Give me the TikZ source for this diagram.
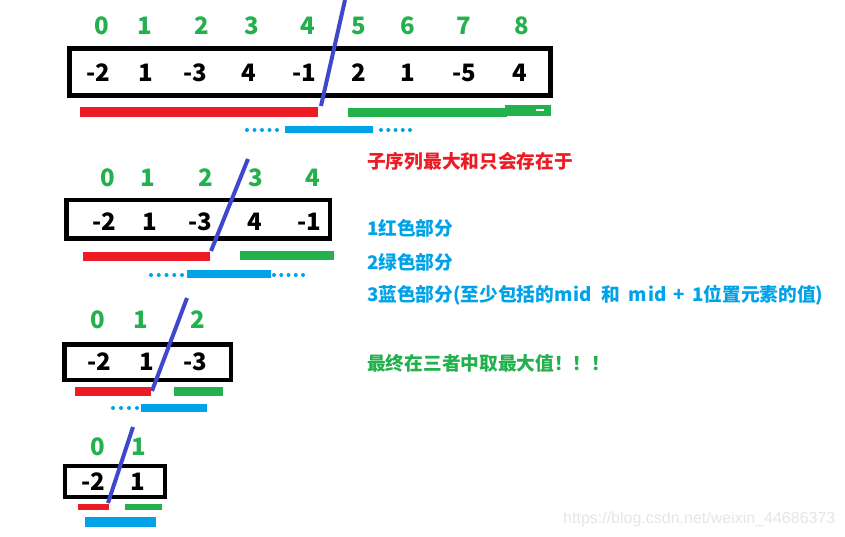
\documentclass[tikz,border=0pt]{standalone}
\usepackage{fontspec}
\setmainfont{Noto Sans CJK SC}
\newfontfamily\wmfont{Liberation Sans}
\definecolor{cred}{HTML}{ED1C24}
\definecolor{cgreen}{HTML}{22B14C}
\definecolor{ctext}{HTML}{00A2E8}
\definecolor{cslash}{HTML}{3F48CC}
\definecolor{cwm}{HTML}{E6E6E6}
\tikzset{
  idx/.style={text=cgreen, font=\bfseries\fontsize{24}{28}\selectfont, inner sep=0pt},
  val/.style={text=black, font=\bfseries\fontsize{24}{28}\selectfont, inner sep=0pt},
  arrbox/.style={draw=black, line width=5pt, fill=none},
  slash/.style={draw=cslash, line width=4pt},
  note/.style={font=\bfseries\fontsize{18.7}{22}\selectfont, anchor=west, inner sep=0pt},
  redbar/.style={fill=cred},
  greenbar/.style={fill=cgreen},
  bluebar/.style={fill=ctext},
}
\begin{document}
\begin{tikzpicture}[x=1pt,y=-1pt]
\useasboundingbox (0,0) rectangle (845,537);
\fill[white] (0,0) rectangle (845,537);
% ---------- array 1 ----------
\draw[arrbox] (69.5,48.5) rectangle (550.5,95.5);
\foreach \n/\x in {0/102,1/145,2/202,3/252,4/308,5/359,6/408,7/464,8/522}
  \node[idx] (a1i\n) at (\x,26) {\n};
\foreach \v/\x [count=\k from 0] in {-2/98,1/146,-3/195,4/249,-1/304,2/359,1/408,-5/464,4/520}
  \node[val] (a1v\k) at (\x,73) {\v};
\fill[redbar] (80,107) rectangle (318,117);
\fill[greenbar] (348,108) rectangle (507,117);
\fill[greenbar] (505,105) rectangle (551,116);
\draw[white, line width=1.2pt] (536,110) -- (544,110);
\foreach \x in {247,254.5,262,269.5,277} \fill[ctext] (\x,130) circle (2);
\fill[bluebar] (285,126) rectangle (373,133);
\foreach \x in {381,388.25,395.5,402.75,410} \fill[ctext] (\x,130) circle (2);
\coordinate (s1a) at (345,0);
\coordinate (s1b) at (321,106);
\draw[slash] (s1a) -- (s1b);
% ---------- array 2 ----------
\draw[arrbox, line width=4.5pt] (66.25,200.25) rectangle (329.75,238.75);
\foreach \n/\x in {0/108,1/148,2/206,3/256,4/313}
  \node[idx] (a2i\n) at (\x,178) {\n};
\foreach \v/\x [count=\k from 0] in {-2/104,1/150,-3/200,4/255,-1/309}
  \node[val] (a2v\k) at (\x,222) {\v};
\fill[redbar] (83,252) rectangle (210,261);
\fill[greenbar] (240,251) rectangle (334,260);
\foreach \x in {151,158.75,166.5,174.25,182} \fill[ctext] (\x,275) circle (2);
\fill[bluebar] (187,270) rectangle (271,278);
\foreach \x in {274,281.25,288.5,295.75,303} \fill[ctext] (\x,275) circle (2);
\coordinate (s2a) at (248,159);
\coordinate (s2b) at (211,251);
\draw[slash] (s2a) -- (s2b);
% ---------- array 3 ----------
\draw[arrbox, line width=4.5pt] (64.25,344.25) rectangle (230.75,379.75);
\foreach \n/\x in {0/98,1/141,2/198}
  \node[idx] (a3i\n) at (\x,320) {\n};
\foreach \v/\x [count=\k from 0] in {-2/99,1/147,-3/195}
  \node[val] (a3v\k) at (\x,362) {\v};
\fill[redbar] (75,387) rectangle (151,396);
\fill[greenbar] (174,387) rectangle (223,396);
\foreach \x in {113,121,129,137} \fill[ctext] (\x,408) circle (2);
\fill[bluebar] (141,404) rectangle (207,412);
\coordinate (s3a) at (187,298);
\coordinate (s3b) at (152,391);
\draw[slash] (s3a) -- (s3b);
% ---------- array 4 ----------
\draw[arrbox, line width=4pt] (65,466) rectangle (165,497);
\foreach \n/\x in {0/98,1/139}
  \node[idx] (a4i\n) at (\x,447) {\n};
\foreach \v/\x [count=\k from 0] in {-2/93,1/138}
  \node[val] (a4v\k) at (\x,482) {\v};
\fill[redbar] (78,504) rectangle (109,510);
\fill[greenbar] (125,504) rectangle (162,510);
\fill[bluebar] (85,517) rectangle (156,527);
\coordinate (s4a) at (133,427);
\coordinate (s4b) at (108,503);
\draw[slash] (s4a) -- (s4b);
% ---------- notes ----------
\node[note, text=cred] (t1) at (367,161) {子序列最大和只会存在于};
\node[note, text=ctext] (t2) at (367,228) {1红色部分};
\node[note, text=ctext] (t3) at (367,262) {2绿色部分};
\node[note, text=ctext] (t4) at (367,295) {3蓝色部分(至少包括的m\kern0.6pt i\kern0.6pt d\hspace{9pt}和\hspace{9pt}m\kern0.6pt i\kern0.6pt d\hspace{7pt}+\hspace{7pt}1位置元素的值)};
\node[note, text=cgreen] (t5) at (367,363) {最终在三者中取最大值！！！};
\node[text=cwm, font=\wmfont\fontsize{16}{19}\selectfont, anchor=west, inner sep=0pt] (wm) at (563,519) {https://blog.csdn.net/weixin\_44686373};
\end{tikzpicture}
\end{document}
